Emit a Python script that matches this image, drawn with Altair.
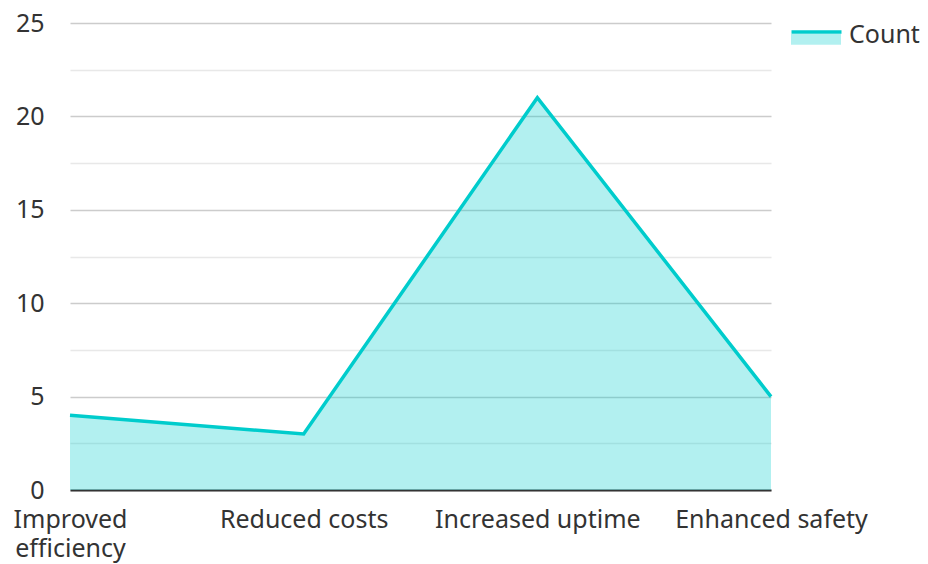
import altair as alt
import pandas as pd

categories = ["Improved efficiency", "Reduced costs", "Increased uptime", "Enhanced safety"]
counts = [4, 3, 21, 5]
series_name = "Count"

df = pd.DataFrame({"category": categories, "value": counts,
                   "sa": [series_name] * len(categories),
                   "sl": [series_name] * len(categories)})

TEAL = "#00CCCC"
FONT = "Noto Sans"
FS = 25

x = alt.X("category:N", sort=categories, title=None,
          scale=alt.Scale(type="point", padding=0),
          axis=alt.Axis(labelAngle=0, labelFontSize=FS, labelColor="#333333", labelFont=FONT,
                        ticks=False, domainColor="#333333", domainWidth=2, grid=False,
                        labelPadding=17, labelLineHeight=29, labelLimit=0,
                        labelExpr="datum.value == 'Improved efficiency' ? split(datum.label, ' ') : datum.label"))
y = alt.Y("value:Q", title=None,
          scale=alt.Scale(domain=[0, 25], nice=False),
          axis=alt.Axis(values=[0, 2.5, 5, 7.5, 10, 12.5, 15, 17.5, 20, 22.5, 25],
                        labelExpr="datum.value % 5 === 0 ? datum.label : ''",
                        gridColor=alt.condition("datum.value % 5 === 0", alt.value("#cccccc"), alt.value("#e8e8e8")),
                        gridWidth=1.5, domain=False, ticks=False, labelPadding=26,
                        labelFontSize=FS, labelColor="#333333", labelFont=FONT))

LX = 721
LY = -13
area = alt.Chart(df).mark_area(fillOpacity=0.3).encode(
    x=x, y=y,
    fill=alt.Fill("sa:N", scale=alt.Scale(range=[TEAL]),
                  legend=alt.Legend(title=None, orient="none", legendX=LX, legendY=LY, padding=0,
                                    symbolType="M-1,-0.04H1V0.39H-1Z", symbolSize=2500,
                                    symbolOpacity=0.3, symbolStrokeWidth=0, labelLimit=0,
                                    labelFontSize=FS, labelFont=FONT, labelColor="#333333",
                                    labelOffset=8)),
)
line = alt.Chart(df).mark_line(strokeWidth=3.5).encode(
    x=x, y=y,
    stroke=alt.Stroke("sl:N", scale=alt.Scale(range=[TEAL]),
                      legend=alt.Legend(title=None, orient="none", legendX=LX - 1.5, legendY=LY, padding=0,
                                        symbolType="M-1,-0.2H1", symbolSize=2500,
                                        symbolStrokeWidth=3.5, labelLimit=0,
                                        labelFontSize=FS, labelFont=FONT, labelOpacity=0,
                                        labelOffset=8)),
)

chart = alt.layer(area, line).properties(
    width=701, height=467,
    padding={"left": 62, "top": 15, "right": 149, "bottom": 73},
    autosize=alt.AutoSizeParams(type="none"),
).configure_view(stroke=None)

chart.save("out.html", embed_options={"renderer": "svg", "actions": False})
